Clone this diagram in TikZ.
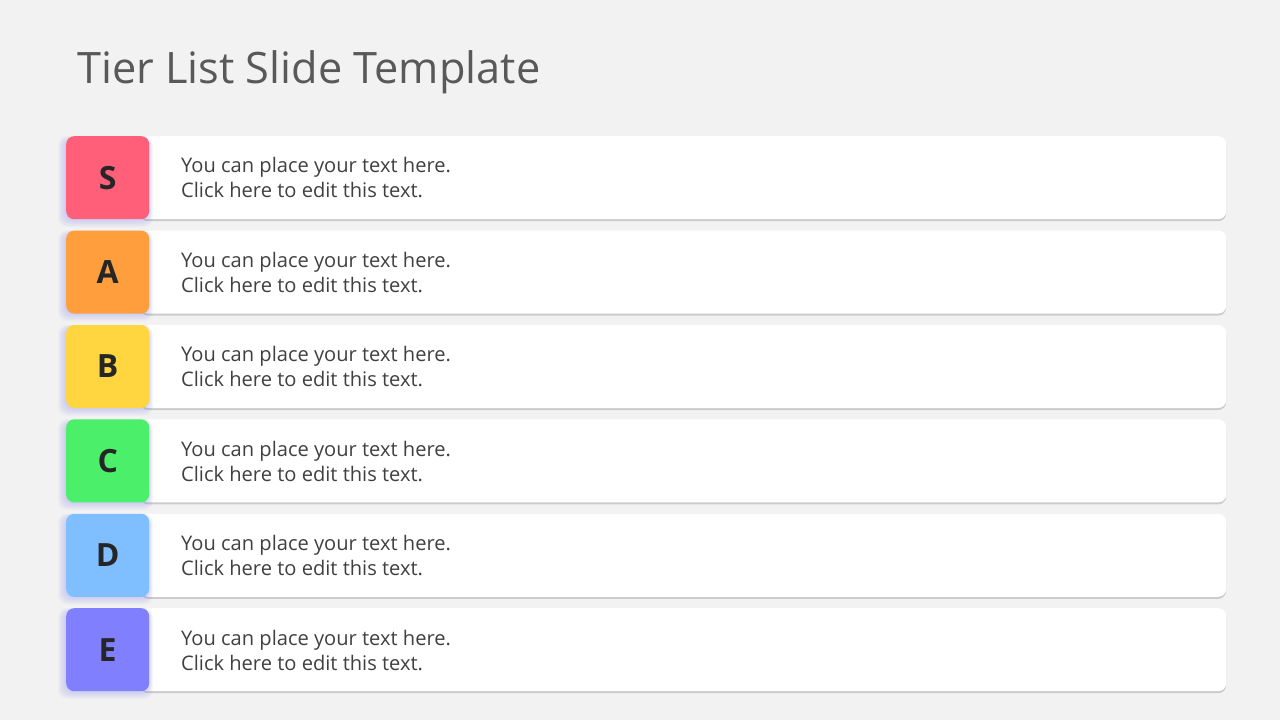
\documentclass[tikz,border=0pt]{standalone}
\usepackage{fontspec}
\setmainfont{Open Sans}
\usetikzlibrary{shadows}
\definecolor{bg}{HTML}{F2F2F2}
\definecolor{titlegray}{HTML}{595959}
\definecolor{bodygray}{HTML}{404040}
\definecolor{lettergray}{HTML}{262626}
\definecolor{tierS}{HTML}{FF5F78}
\definecolor{tierA}{HTML}{FF9E3D}
\definecolor{tierB}{HTML}{FFD640}
\definecolor{tierC}{HTML}{4CEF6A}
\definecolor{tierD}{HTML}{80BFFF}
\definecolor{tierE}{HTML}{8080FF}
\definecolor{glow}{HTML}{7070F0}
\tikzset{
  rowbox/.style={draw=none, fill=white, rounded corners=8pt, anchor=north west,
    minimum width=1086pt, minimum height=83pt, inner sep=0pt,
    drop shadow={shadow xshift=0pt, shadow yshift=-2pt, opacity=0.28, fill=black!60}},
  tierbox/.style={draw=none, fill=#1, rounded corners=8pt, anchor=north west,
    minimum width=83pt, minimum height=83pt, inner sep=0pt,
    font=\fontsize{32}{32}\selectfont\bfseries, text=lettergray},
  bodytext/.style={anchor=west, align=left, inner sep=0pt, text=bodygray,
    font=\fontsize{20.1}{25}\selectfont},
  glowlayer/.style={fill=glow, opacity=0.035, rounded corners=#1}
}
\begin{document}
\begin{tikzpicture}[x=1pt,y=-1pt]
  \fill[bg] (0,0) rectangle (1280,720);
  \useasboundingbox (0,0) rectangle (1280,720);
  \node[anchor=base west, inner sep=0pt, text=titlegray,
        font=\fontsize{43.3}{43.3}\selectfont] (title) at (77,83) {Tier List Slide Template};
  \foreach \t/\y in {S/136, A/230.4, B/324.8, C/419.2, D/513.6, E/608} {
    \node[rowbox] (row\t) at (140,\y) {};
    \foreach \g in {1,2,...,8} {
      \fill[glowlayer=9pt] (66-\g,\y-\g/2+4) rectangle (149+\g/2,\y+83+\g);
    }
    \node[tierbox=tier\t] (tier\t) at (66,\y) {\t};
    \node[bodytext] (text\t) at (181,\y+42) {You can place your text here.\\Click here to edit this text.};
  }
\end{tikzpicture}
\end{document}
